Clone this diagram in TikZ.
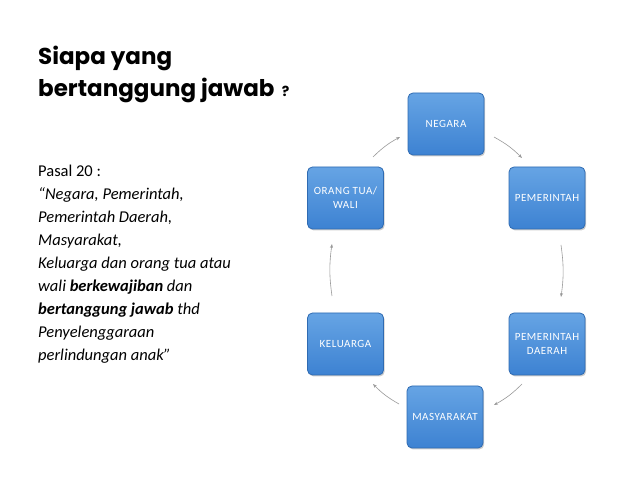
\documentclass[tikz,border=0pt]{standalone}
\usepackage{fontspec}
\setmainfont{Carlito}
\newfontfamily\titlefont{Poppins}
\newfontfamily\boxfont[LetterSpace=5]{Carlito}
\usetikzlibrary{arrows.meta,shadows}
\definecolor{boxtop}{HTML}{66A4E4}
\definecolor{boxbot}{HTML}{3D82D2}
\definecolor{boxedge}{HTML}{2F6BB2}
\definecolor{arrowgray}{HTML}{9A9A9A}
\begin{document}
\begin{tikzpicture}[x=1pt,y=-1pt,
  boxnode/.style={rectangle, rounded corners=5pt, minimum width=76pt, minimum height=62pt,
    draw=boxedge, line width=0.8pt, top color=boxtop, bottom color=boxbot, text=white,
    font=\boxfont\fontsize{11}{14}\selectfont, align=center, inner sep=2pt,
    drop shadow={shadow xshift=1.2pt, shadow yshift=-1.5pt, fill=black, opacity=0.2}},
  cyc/.style={draw=arrowgray, line width=0.6pt, -{Stealth[length=4pt,width=3pt]}, bend left=8}]
\useasboundingbox (0,0) rectangle (638,478);
\fill[white] (0,0) rectangle (638,478);

% title and text
\node[anchor=north west, inner sep=0, align=left, font=\titlefont\bfseries\fontsize{23}{32}\selectfont] (title) at (38,46)
  {Siapa yang\\bertanggung jawab {\fontsize{14}{14}\selectfont\,?}};
\node[anchor=north west, inner sep=0, align=left, font=\fontsize{16.5}{23}\selectfont] (pasal) at (38,165)
  {Pasal 20 :\\
   \itshape “Negara, Pemerintah,\\
   \itshape Pemerintah Daerah,\\
   \itshape Masyarakat,\\
   \itshape Keluarga dan orang tua atau\\
   \itshape wali \textbf{berkewajiban} dan\\
   \itshape\textbf{bertanggung jawab} thd\\
   \itshape Penyelenggaraan\\
   \itshape perlindungan anak”};

% boxes
\node[boxnode] (negara) at (446,124) {NEGARA};
\node[boxnode] (orang) at (345.5,198) {ORANG TUA/\\WALI};
\node[boxnode] (pem) at (547,198) {PEMERINTAH};
\node[boxnode] (keluarga) at (345.5,344) {KELUARGA};
\node[boxnode] (pemda) at (547,344) {PEMERINTAH\\DAERAH};
\node[boxnode] (masy) at (445,417) {MASYARAKAT};

% arrow end points
\coordinate (a1s) at (373,157); \coordinate (a1e) at (400,137);
\coordinate (a2s) at (494,137); \coordinate (a2e) at (522,158);
\coordinate (a3s) at (561,245); \coordinate (a3e) at (561,297);
\coordinate (a4s) at (522,384); \coordinate (a4e) at (494,405);
\coordinate (a5s) at (399,404); \coordinate (a5e) at (373,384);
\coordinate (a6s) at (332,296); \coordinate (a6e) at (332,244);

\draw[cyc] (a1s) to (a1e);
\draw[cyc] (a2s) to (a2e);
\draw[cyc] (a3s) to (a3e);
\draw[cyc] (a4s) to (a4e);
\draw[cyc] (a5s) to (a5e);
\draw[cyc] (a6s) to (a6e);
\end{tikzpicture}
\end{document}
